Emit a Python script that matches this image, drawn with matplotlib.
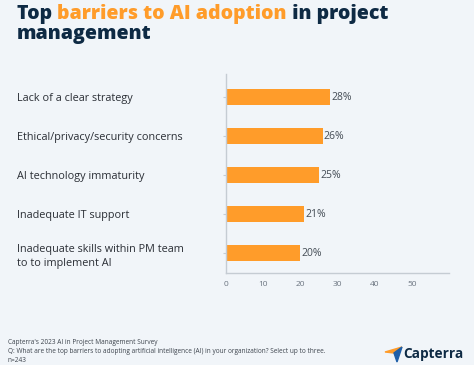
import matplotlib.pyplot as plt
from matplotlib.patches import Polygon

labels = ["Lack of a clear strategy",
          "Ethical/privacy/security concerns",
          "AI technology immaturity",
          "Inadequate IT support",
          "Inadequate skills within PM team\nto to implement AI"]
values = [28, 26, 25, 21, 20]
xticks = [0, 10, 20, 30, 40, 50]

bg = "#f1f5f9"
navy = "#0e2a44"
orange = "#ff9c2a"

plt.rcParams['font.family'] = ['Open Sans', 'DejaVu Sans']

W, H = 474, 365
fig = plt.figure(figsize=(4.74, 3.65), dpi=100, facecolor=bg)
ax = fig.add_axes([0.477, 0.252, 0.47, 0.546], facecolor=bg)

pos = list(range(len(values)))
ax.barh(pos, values, height=0.41, color=orange)
for p, v in zip(pos, values):
    ax.text(v + 0.3, p, f"{v}%", va='center', ha='left', fontsize=7.5, color="#444c55")

ax.set_ylim(4.5, -0.6)
ax.set_xlim(0, 60)
ax.set_xticks(xticks)
ax.set_xticklabels([str(t) for t in xticks], fontsize=6, color="#6b7480")
ax.set_yticks(pos)
ax.set_yticklabels([])
ax.tick_params(axis='x', length=0, pad=6)
ax.tick_params(axis='y', length=2, color="#c5ccd3")
for s in ['top', 'right']:
    ax.spines[s].set_visible(False)
for s in ['left', 'bottom']:
    ax.spines[s].set_color("#c5ccd3")
    ax.spines[s].set_linewidth(1)

# category labels at left edge of figure
for p, lab in zip(pos, labels):
    off = 0.08 if "\n" in lab else 0.03
    yfig = ax.transData.transform((0, p + off))[1] / fig.dpi / 3.65
    fig.text(17 / W, yfig, lab, ha='left', va='center', fontsize=7.8,
             color="#2b2f36", linespacing=1.35)

# multicolor title
ts = 14
t1 = fig.text(17 / W, 1 - 19 / H, "Top ", fontsize=ts, fontweight='heavy',
              color=navy, va='baseline')
t2 = fig.text(0, 0, "barriers to AI adoption", fontsize=ts, fontweight='heavy',
              color=orange, va='baseline')
t3 = fig.text(0, 0, " in project", fontsize=ts, fontweight='heavy',
              color=navy, va='baseline')
fig.text(17 / W, 1 - 39 / H, "management", fontsize=ts, fontweight='heavy',
         color=navy, va='baseline')
fig.canvas.draw()
r = fig.canvas.get_renderer()
bb = t1.get_window_extent(r)
t2.set_position((bb.x1 / fig.bbox.width, t1.get_position()[1]))
bb = t2.get_window_extent(r)
t3.set_position((bb.x1 / fig.bbox.width, t1.get_position()[1]))

# footer
fig.text(8 / W, 1 - 362 / H,
         "Capterra's 2023 AI in Project Management Survey\n"
         "Q: What are the top barriers to adopting artificial intelligence (AI) in your organization? Select up to three.\n"
         "n=243",
         fontsize=4.7, color="#3d444d", va='baseline', linespacing=1.45)

# logo
fig.text(403 / W, 1 - 358 / H, "Capterra", fontsize=9.8, fontweight='bold',
         color=navy, va='baseline')
fig.patches.append(Polygon([(385 / W, 1 - 352 / H), (402 / W, 1 - 347 / H), (394 / W, 1 - 353 / H)],
                           closed=True, color=orange, transform=fig.transFigure))
fig.patches.append(Polygon([(394 / W, 1 - 353 / H), (402 / W, 1 - 347 / H), (397 / W, 1 - 362 / H)],
                           closed=True, color="#1f5fa8", transform=fig.transFigure))

fig.savefig("out.png", dpi=100, facecolor=bg)
